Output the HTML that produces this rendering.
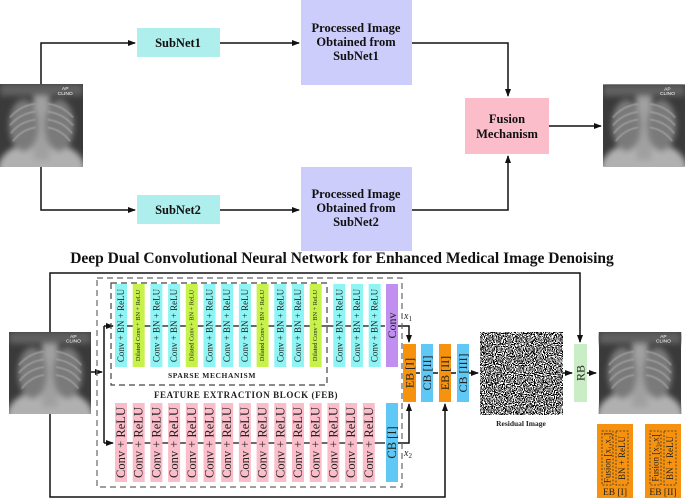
<!DOCTYPE html>
<html><head><meta charset="utf-8"><style>
html,body{margin:0;padding:0;background:#fff;}
svg{display:block;}
svg text{font-family:"Liberation Serif","DejaVu Serif",serif;}
</style></head><body>
<svg width="685" height="498" viewBox="0 0 685 498" xmlns="http://www.w3.org/2000/svg" font-family="Liberation Serif, serif">
<defs>
<marker id="a" markerWidth="8" markerHeight="6" refX="7" refY="3" orient="auto" markerUnits="userSpaceOnUse"><path d="M0,0 L8,3 L0,6 z" fill="#111"/></marker>
<filter id="bl" x="-20%" y="-20%" width="140%" height="140%"><feGaussianBlur stdDeviation="3"/></filter>
<filter id="sb"><feGaussianBlur stdDeviation="0.6"/></filter>
<filter id="nz" x="0" y="0" width="100%" height="100%">
<feTurbulence type="fractalNoise" baseFrequency="0.9" numOctaves="1" seed="3"/>
<feColorMatrix type="matrix" values="0 0 0 0 0  0 0 0 0 0  0 0 0 0 0  1 0 0 0 0"/>
<feComponentTransfer><feFuncA type="discrete" tableValues="0 0 1 1"/></feComponentTransfer>
</filter>
<symbol id="xr" viewBox="0 0 84 84">
<rect width="84" height="84" fill="#3a3a3a"/>
<g filter="url(#bl)">
<ellipse cx="42" cy="86" rx="44" ry="28" fill="#b0b0b0"/>
<rect x="34" y="5" width="16" height="72" fill="#a0a0a0"/>
<ellipse cx="24" cy="42" rx="15" ry="26" fill="#7a7a7a"/>
<ellipse cx="60" cy="42" rx="15" ry="26" fill="#7a7a7a"/>
<rect x="0" y="0" width="84" height="12" fill="#606060"/>
</g>
<g stroke="#a8a8a8" stroke-width="1.8" fill="none" opacity="0.7" filter="url(#sb)">
<path d="M36 20 Q20 22 10 34"/><path d="M36 28 Q20 30 10 42"/><path d="M36 36 Q20 38 11 50"/><path d="M36 44 Q22 46 13 58"/>
<path d="M48 20 Q64 22 74 34"/><path d="M48 28 Q64 30 74 42"/><path d="M48 36 Q64 38 73 50"/><path d="M48 44 Q62 46 71 58"/>
</g>
<text x="66" y="6" style="font-family:'Liberation Sans',sans-serif" font-size="5" fill="#fff" text-anchor="middle">AP</text>
<text x="66" y="11" style="font-family:'Liberation Sans',sans-serif" font-size="5" fill="#fff" text-anchor="middle">CLINO</text>
</symbol>
</defs>

<use href="#xr" x="0" y="84" width="83" height="83"/>
<use href="#xr" x="603" y="84" width="82" height="83"/>
<g stroke="#111" stroke-width="1.5" fill="none">
<path d="M41 84 V43 H135" marker-end="url(#a)"/>
<path d="M41 167 V210 H135" marker-end="url(#a)"/>
<path d="M220 43 H299" marker-end="url(#a)"/>
<path d="M220 210 H299" marker-end="url(#a)"/>
<path d="M412 43 H508 V96" marker-end="url(#a)"/>
<path d="M412 210 H508 V156" marker-end="url(#a)"/>
<path d="M549 126 H601" marker-end="url(#a)"/>
</g>
<rect x="137" y="28" width="83" height="29" fill="#aeeeec"/>
<rect x="137" y="195" width="83" height="29" fill="#aeeeec"/>
<rect x="301" y="0" width="111" height="85" fill="#cdcdfc"/>
<rect x="301" y="167" width="111" height="84" fill="#cdcdfc"/>
<rect x="465" y="98" width="84" height="56" fill="#fbbdca"/>
<g font-weight="bold" font-size="12.5" text-anchor="middle" fill="#111">
<text x="178" y="47">SubNet1</text>
<text x="178" y="214">SubNet2</text>
<text x="356" y="32">Processed Image</text>
<text x="356" y="46">Obtained from</text>
<text x="356" y="60">SubNet1</text>
<text x="356" y="198">Processed Image</text>
<text x="356" y="212">Obtained from</text>
<text x="356" y="226">SubNet2</text>
<text x="507" y="123">Fusion</text>
<text x="507" y="138">Mechanism</text>
<text x="342" y="263" font-size="15.5">Deep Dual Convolutional Neural Network for Enhanced Medical Image Denoising</text>
</g>

<use href="#xr" x="9" y="332" width="82" height="82"/>
<use href="#xr" x="598" y="332" width="84" height="82"/>
<g stroke="#111" stroke-width="1.5" fill="none">
<path d="M50 332 V273 H580 V342" marker-end="url(#a)"/>
<path d="M50 414 V497 H445 V404" marker-end="url(#a)"/>
<path d="M91 372 H102"  marker-end="url(#a)"/>
<path d="M104 326 V443"/>
<path d="M104 326 H113" marker-end="url(#a)"/>
<path d="M104 443 H113" marker-end="url(#a)"/>
<path d="M397 326 H409 V342" marker-end="url(#a)"/>
<path d="M397 443 H409 V404" marker-end="url(#a)"/>
<path d="M416 373 H420"/>
<path d="M433 373 H438"/>
<path d="M451 373 H456"/>
<path d="M469 373 H478" marker-end="url(#a)"/>
<path d="M563 373 H572" marker-end="url(#a)"/>
<path d="M587 373 H596" marker-end="url(#a)"/>
</g>
<g stroke="#111" stroke-width="1.2">
<path d="M127 326 H385"/>
<path d="M127 443 H385"/>
</g>
<rect x="97" y="278" width="305" height="209" fill="none" stroke="#666" stroke-width="1.2" stroke-dasharray="6,4"/>
<rect x="111" y="283" width="216" height="102" fill="none" stroke="#444" stroke-width="1.2" stroke-dasharray="6,4"/>

<g>
<rect x="115" y="284" width="12" height="83" fill="#8ff4f4"/>
<rect x="132.7" y="284" width="12" height="83" fill="#c7f24a"/>
<rect x="150.4" y="284" width="12" height="83" fill="#8ff4f4"/>
<rect x="168.1" y="284" width="12" height="83" fill="#8ff4f4"/>
<rect x="185.8" y="284" width="12" height="83" fill="#c7f24a"/>
<rect x="203.5" y="284" width="12" height="83" fill="#8ff4f4"/>
<rect x="221.2" y="284" width="12" height="83" fill="#8ff4f4"/>
<rect x="238.9" y="284" width="12" height="83" fill="#8ff4f4"/>
<rect x="256.6" y="284" width="12" height="83" fill="#c7f24a"/>
<rect x="274.3" y="284" width="12" height="83" fill="#8ff4f4"/>
<rect x="292" y="284" width="12" height="83" fill="#8ff4f4"/>
<rect x="309.7" y="284" width="12" height="83" fill="#c7f24a"/>
<rect x="333.3" y="284" width="12" height="83" fill="#8ff4f4"/>
<rect x="351" y="284" width="12" height="83" fill="#8ff4f4"/>
<rect x="368.7" y="284" width="12" height="83" fill="#8ff4f4"/>
<rect x="386" y="284" width="12" height="83" fill="#c08ff0"/>
</g>
<g font-size="9" fill="#222" text-anchor="middle" dominant-baseline="central">
<text transform="translate(121,325.5) rotate(-90)">Conv + BN + ReLU</text>
<text transform="translate(138.7,325.5) rotate(-90)" font-size="6.3">Dilated Conv + BN + ReLU</text>
<text transform="translate(156.4,325.5) rotate(-90)">Conv + BN + ReLU</text>
<text transform="translate(174.1,325.5) rotate(-90)">Conv + BN + ReLU</text>
<text transform="translate(191.8,325.5) rotate(-90)" font-size="6.3">Dilated Conv + BN + ReLU</text>
<text transform="translate(209.5,325.5) rotate(-90)">Conv + BN + ReLU</text>
<text transform="translate(227.2,325.5) rotate(-90)">Conv + BN + ReLU</text>
<text transform="translate(244.9,325.5) rotate(-90)">Conv + BN + ReLU</text>
<text transform="translate(262.6,325.5) rotate(-90)" font-size="6.3">Dilated Conv + BN + ReLU</text>
<text transform="translate(280.3,325.5) rotate(-90)">Conv + BN + ReLU</text>
<text transform="translate(298,325.5) rotate(-90)">Conv + BN + ReLU</text>
<text transform="translate(315.7,325.5) rotate(-90)" font-size="6.3">Dilated Conv + BN + ReLU</text>
<text transform="translate(339.3,325.5) rotate(-90)">Conv + BN + ReLU</text>
<text transform="translate(357,325.5) rotate(-90)">Conv + BN + ReLU</text>
<text transform="translate(374.7,325.5) rotate(-90)">Conv + BN + ReLU</text>
<text transform="translate(392,325.5) rotate(-90)" font-size="12">Conv</text>
</g>

<g fill="#fbbdca">
<rect x="115" y="403" width="12" height="79"/><rect x="132.7" y="403" width="12" height="79"/>
<rect x="150.4" y="403" width="12" height="79"/><rect x="168.1" y="403" width="12" height="79"/>
<rect x="185.8" y="403" width="12" height="79"/><rect x="203.5" y="403" width="12" height="79"/>
<rect x="221.2" y="403" width="12" height="79"/><rect x="238.9" y="403" width="12" height="79"/>
<rect x="256.6" y="403" width="12" height="79"/><rect x="274.3" y="403" width="12" height="79"/>
<rect x="292" y="403" width="12" height="79"/><rect x="309.7" y="403" width="12" height="79"/>
<rect x="327.4" y="403" width="12" height="79"/><rect x="345.1" y="403" width="12" height="79"/>
<rect x="362.8" y="403" width="12" height="79"/>
</g>
<rect x="386" y="403" width="12" height="79" fill="#5fc8f5"/>
<g font-size="12.5" fill="#222" text-anchor="middle" dominant-baseline="central">
<text transform="translate(121,442.5) rotate(-90)">Conv + ReLU</text>
<text transform="translate(138.7,442.5) rotate(-90)">Conv + ReLU</text>
<text transform="translate(156.4,442.5) rotate(-90)">Conv + ReLU</text>
<text transform="translate(174.1,442.5) rotate(-90)">Conv + ReLU</text>
<text transform="translate(191.8,442.5) rotate(-90)">Conv + ReLU</text>
<text transform="translate(209.5,442.5) rotate(-90)">Conv + ReLU</text>
<text transform="translate(227.2,442.5) rotate(-90)">Conv + ReLU</text>
<text transform="translate(244.9,442.5) rotate(-90)">Conv + ReLU</text>
<text transform="translate(262.6,442.5) rotate(-90)">Conv + ReLU</text>
<text transform="translate(280.3,442.5) rotate(-90)">Conv + ReLU</text>
<text transform="translate(298,442.5) rotate(-90)">Conv + ReLU</text>
<text transform="translate(315.7,442.5) rotate(-90)">Conv + ReLU</text>
<text transform="translate(333.4,442.5) rotate(-90)">Conv + ReLU</text>
<text transform="translate(351.1,442.5) rotate(-90)">Conv + ReLU</text>
<text transform="translate(368.8,442.5) rotate(-90)">Conv + ReLU</text>
<text transform="translate(392,442.5) rotate(-90)">CB [I]</text>
</g>
<g font-size="7.5" font-weight="bold" text-anchor="middle" fill="#222" letter-spacing="0.6">
<text x="212" y="378">SPARSE MECHANISM</text>
<text x="246" y="398" font-size="9">FEATURE EXTRACTION BLOCK (FEB)</text>
</g>
<g font-size="10" font-style="italic" fill="#222">
<text x="404" y="319">x<tspan font-size="7" dy="2" font-style="normal">1</tspan></text>
<text x="404" y="456">x<tspan font-size="7" dy="2" font-style="normal">2</tspan></text>
</g>

<rect x="403" y="344" width="13" height="58" fill="#f7920f"/>
<rect x="421" y="344" width="12" height="58" fill="#5fc8f5"/>
<rect x="439" y="344" width="12" height="58" fill="#f7920f"/>
<rect x="457" y="344" width="12" height="58" fill="#5fc8f5"/>
<rect x="574" y="344" width="13" height="58" fill="#c9edc4"/>
<g font-size="12" fill="#222" text-anchor="middle" dominant-baseline="central">
<text transform="translate(409.5,373) rotate(-90)">EB [I]</text>
<text transform="translate(427,373) rotate(-90)">CB [II]</text>
<text transform="translate(445,373) rotate(-90)">EB [II]</text>
<text transform="translate(463,373) rotate(-90)">CB [III]</text>
<text transform="translate(580.5,373) rotate(-90)">RB</text>
</g>
<rect x="480" y="332" width="83" height="83" fill="#fff"/>
<rect x="480" y="332" width="83" height="83" fill="#000" filter="url(#nz)"/>
<text x="521" y="426" font-size="7.5" font-weight="bold" text-anchor="middle" fill="#222">Residual Image</text>

<rect x="597" y="424" width="36" height="74" fill="#f7920f"/>
<rect x="645" y="424" width="36" height="74" fill="#f7920f"/>
<g fill="none" stroke="#333" stroke-width="0.8" stroke-dasharray="2,1.5">
<rect x="602" y="431" width="11" height="54"/><rect x="616" y="431" width="12" height="54"/>
<rect x="650" y="431" width="11" height="54"/><rect x="664" y="431" width="12" height="54"/>
</g>
<g font-size="9" fill="#222" text-anchor="middle" dominant-baseline="central">
<text transform="translate(607.5,458) rotate(-90)">Fusion [x₁,x₂]</text>
<text transform="translate(622,458) rotate(-90)">BN + ReLU</text>
<text transform="translate(655.5,458) rotate(-90)">Fusion [x₃,x]</text>
<text transform="translate(670,458) rotate(-90)">BN + ReLU</text>
</g>
<g font-size="9.5" fill="#222" text-anchor="middle">
<text x="615" y="495">EB [I]</text>
<text x="663" y="495">EB [II]</text>
</g>
</svg>
</body></html>
